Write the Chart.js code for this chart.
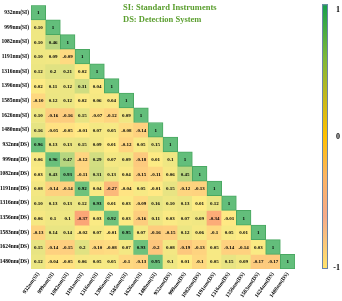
<!DOCTYPE html>
<html><head><meta charset="utf-8">
<script src="https://cdn.jsdelivr.net/npm/chart.js@4/dist/chart.umd.min.js"></script>
<style>html,body{margin:0;padding:0;background:#fff}canvas{display:block}</style>
</head><body>
<canvas id="c" width="342" height="301"></canvas>
<script>
const labels = ['932nm(SI)','999nm(SI)','1082nm(SI)','1191nm(SI)','1316nm(SI)','1396nm(SI)','1585nm(SI)','1626nm(SI)','1480nm(SI)','932nm(DS)','999nm(DS)','1082nm(DS)','1191nm(DS)','1316nm(DS)','1356nm(DS)','1583nm(DS)','1624nm(DS)','1480nm(DS)'];
const row00 = ['1'];
const row01 = ['0.10','1'];
const row02 = ['0.10','0.46','1'];
const row03 = ['0.10','0.09','-0.09','1'];
const row04 = ['0.12','0.2','0.21','0.02','1'];
const row05 = ['0.02','0.11','0.12','0.31','0.04','1'];
const row06 = ['-0.10','0.12','0.12','0.02','0.06','0.04','1'];
const row07 = ['0.10','-0.16','-0.16','0.15','-0.07','-0.12','0.09','1'];
const row08 = ['0.16','-0.05','-0.05','-0.01','0.07','0.05','-0.08','-0.14','1'];
const row09 = ['0.96','0.13','0.13','0.15','0.09','0.01','-0.12','0.05','0.15','1'];
const row10 = ['0.06','0.96','0.47','-0.12','0.29','0.07','0.09','-0.18','0.01','0.1','1'];
const row11 = ['0.03','0.43','0.93','-0.11','0.31','0.13','0.04','-0.15','-0.11','0.06','0.45','1'];
const row12 = ['0.08','-0.14','-0.14','0.92','0.04','-0.27','-0.04','0.05','-0.01','0.15','-0.12','-0.13','1'];
const row13 = ['0.10','0.13','0.13','0.12','0.93','0.01','0.03','-0.09','0.16','0.10','0.13','0.01','0.12','1'];
const row14 = ['0.06','0.1','0.1','-0.37','0.03','0.92','0.03','-0.16','0.11','0.03','0.07','0.09','-0.34','-0.01','1'];
const row15 = ['-0.13','0.14','0.14','-0.02','0.07','-0.01','0.95','0.07','-0.16','-0.15','0.12','0.06','-0.1','0.05','0.01','1'];
const row16 = ['0.15','-0.14','-0.15','0.2','-0.10','-0.08','0.07','0.93','-0.2','0.08','-0.19','-0.13','0.05','-0.14','-0.14','0.03','1'];
const row17 = ['0.12','-0.04','-0.05','0.06','0.05','0.05','-0.1','-0.13','0.95','0.1','0.01','-0.1','0.05','0.15','0.09','-0.17','-0.17','1'];
const rows = [row00,row01,row02,row03,row04,row05,row06,row07,row08,row09,row10,row11,row12,row13,row14,row15,row16,row17];
const colorbarTicks = [-1, 0, 1];
const legendLines = ['SI: Standard Instruments', 'DS: Detection System'];

function mix(a, b, t) {
  return 'rgb(' + a.map((v, i) => Math.round(v + (b[i] - v) * t)).join(',') + ')';
}
const GREEN = [99,190,123], YEL = [255,235,132], RED = [248,105,107];
function cellColor(v) {
  if (v >= 0) return mix(YEL, GREEN, Math.min(1, v));
  return mix(YEL, RED, Math.min(1, -v / 0.7));
}

const datasets = rows.map((row, r) => ({
  data: labels.map((_, c) => c < row.length ? [r - 0.5, r + 0.5] : null),
  vals: row,
  grouped: false,
  barPercentage: 1,
  categoryPercentage: 1,
  borderSkipped: false,
  backgroundColor: ctx => cellColor(parseFloat(row[ctx.dataIndex] || '0')),
  borderColor: ctx => ctx.dataIndex === r ? '#4aa862' : 'rgba(0,0,0,0)',
  borderWidth: ctx => ctx.dataIndex === r ? 1 : 0
}));

const serif = "'Liberation Serif','Times New Roman',serif";

const valuePlugin = {
  id: 'vals',
  afterDatasetsDraw(chart) {
    const ctx = chart.ctx;
    ctx.save();
    ctx.font = 'bold 5px ' + serif;
    ctx.fillStyle = '#000';
    ctx.textAlign = 'center';
    ctx.textBaseline = 'middle';
    chart.data.datasets.forEach((ds, i) => {
      const meta = chart.getDatasetMeta(i);
      meta.data.forEach((el, j) => {
        if (ds.data[j] == null) return;
        ctx.fillText(ds.vals[j], el.x, (el.y + el.base) / 2 + 0.5);
      });
    });
    ctx.restore();
  }
};

const decoPlugin = {
  id: 'deco',
  afterDraw(chart) {
    const ctx = chart.ctx;
    const y2 = chart.scales.y2;
    const top = y2.getPixelForValue(1) - 1, bot = y2.getPixelForValue(-1);
    const x0 = 322, w = 6;
    const g = ctx.createLinearGradient(0, top, 0, bot);
    g.addColorStop(0, '#16a04c');
    g.addColorStop(0.2, '#7cb838');
    g.addColorStop(0.35, '#c4b81c');
    g.addColorStop(0.5, '#ffc000');
    g.addColorStop(0.65, '#fbb462');
    g.addColorStop(0.8, '#f5aa8a');
    g.addColorStop(1, '#ffe46c');
    ctx.save();
    ctx.fillStyle = g;
    ctx.fillRect(x0, top, w, bot - top);
    ctx.strokeStyle = '#6a84a8';
    ctx.lineWidth = 1;
    ctx.strokeRect(x0 + 0.5, top + 0.5, w - 1, bot - top - 1);
    ctx.font = 'bold 8px ' + serif;
    ctx.fillStyle = '#000';
    ctx.textAlign = 'right';
    ctx.textBaseline = 'middle';
    colorbarTicks.forEach(v => {
      let y = y2.getPixelForValue(v);
      if (v === 1) y += 5;
      if (v === -1) y -= 1;
      ctx.fillText(String(v), 340, y);
    });
    ctx.font = 'bold 8.5px ' + serif;
    ctx.fillStyle = '#5a9e2e';
    ctx.textAlign = 'left';
    ctx.fillText(legendLines[0], 123, 8);
    ctx.fillText(legendLines[1], 123, 19.5);
    ctx.restore();
  }
};

new Chart(document.getElementById('c'), {
  type: 'bar',
  data: { labels, datasets },
  options: {
    responsive: false,
    devicePixelRatio: 1,
    animation: false,
    layout: { padding: { top: 3, left: 0, right: 0, bottom: 0 } },
    plugins: { legend: { display: false }, tooltip: { enabled: false } },
    scales: {
      x: {
        type: 'category',
        offset: true,
        grid: { display: false, drawTicks: false },
        border: { display: false },
        ticks: { font: { family: serif, size: 5.5, weight: 'bold' }, color: '#000', minRotation: 55, maxRotation: 55, padding: 2, autoSkip: false },
        afterFit: s => { s.height = 32; }
      },
      y: {
        type: 'linear',
        reverse: true,
        min: -0.5,
        max: 17.5,
        grid: { display: false, drawTicks: false },
        border: { display: false },
        afterBuildTicks: s => { s.ticks = labels.map((_, i) => ({ value: i })); },
        ticks: { font: { family: serif, size: 5.5, weight: 'bold' }, color: '#000', padding: 2, autoSkip: false, callback: v => labels[v] },
        afterFit: s => { s.width = 31; }
      },
      y2: {
        type: 'linear',
        position: 'right',
        min: -1,
        max: 1,
        grid: { display: false, drawTicks: false },
        border: { display: false },
        afterBuildTicks: s => { s.ticks = colorbarTicks.map(v => ({ value: v })); },
        ticks: { display: false },
        afterFit: s => { s.width = 47; }
      }
    }
  },
  plugins: [valuePlugin, decoPlugin]
});
</script>
</body></html>
